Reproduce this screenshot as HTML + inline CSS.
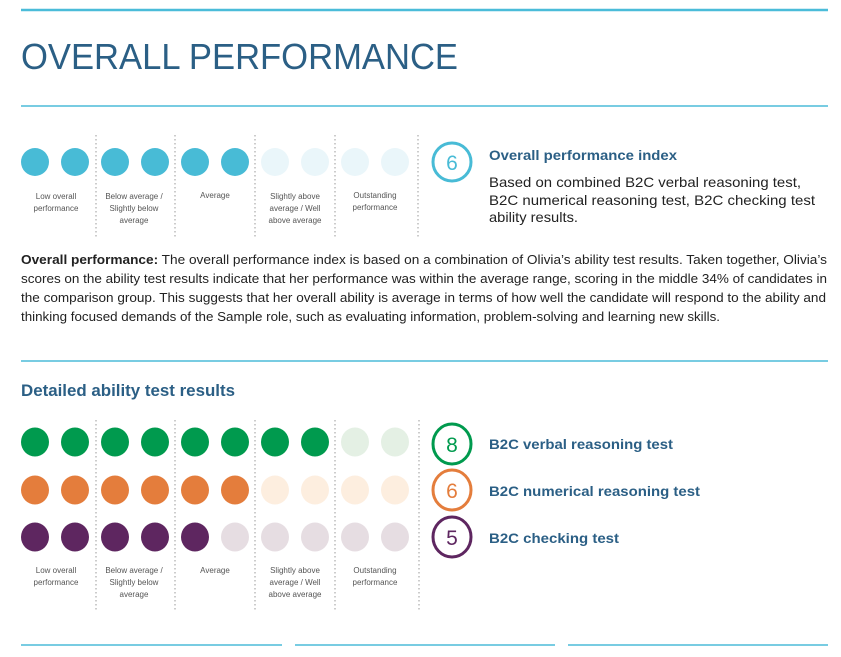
<!DOCTYPE html>
<html><head><meta charset="utf-8"><style>
html,body{margin:0;padding:0;background:#fff;width:841px;height:657px;overflow:hidden}
svg{display:block;font-family:"Liberation Sans",Arial,sans-serif}
.lbl{font-size:8px;fill:#555;text-anchor:middle}
.p{font-size:13px;fill:#222}
.h{fill:#2b5f85;font-weight:bold}
</style></head><body>
<svg width="841" height="657" viewBox="0 0 841 657">
<g stroke="#4bbcd9">
<line x1="21" y1="10" x2="828" y2="10" stroke-width="2.5"/>
<line x1="21" y1="106" x2="828" y2="106" stroke-width="1.5"/>
<line x1="21" y1="361" x2="828" y2="361" stroke-width="1.5"/>
<line x1="21" y1="645" x2="282" y2="645" stroke-width="1.5"/>
<line x1="295" y1="645" x2="555" y2="645" stroke-width="1.5"/>
<line x1="568" y1="645" x2="828" y2="645" stroke-width="1.5"/>
</g>
<text x="21" y="69" font-size="36" fill="#2b5f85" textLength="437" lengthAdjust="spacingAndGlyphs">OVERALL PERFORMANCE</text>

<g stroke="#aaa" stroke-width="1.2" stroke-dasharray="1.5,2.5">
<line x1="96" y1="135" x2="96" y2="238"/><line x1="175" y1="135" x2="175" y2="238"/>
<line x1="255" y1="135" x2="255" y2="238"/><line x1="335" y1="135" x2="335" y2="238"/>
<line x1="418" y1="135" x2="418" y2="238"/>
<line x1="96" y1="420" x2="96" y2="610"/><line x1="175" y1="420" x2="175" y2="610"/>
<line x1="255" y1="420" x2="255" y2="610"/><line x1="335" y1="420" x2="335" y2="610"/>
<line x1="419" y1="420" x2="419" y2="610"/>
</g>

<g>
<circle cx="35" cy="162" r="14" fill="#48bbd6"/><circle cx="75" cy="162" r="14" fill="#48bbd6"/>
<circle cx="115" cy="162" r="14" fill="#48bbd6"/><circle cx="155" cy="162" r="14" fill="#48bbd6"/>
<circle cx="195" cy="162" r="14" fill="#48bbd6"/><circle cx="235" cy="162" r="14" fill="#48bbd6"/>
<circle cx="275" cy="162" r="14" fill="#eaf6fa"/><circle cx="315" cy="162" r="14" fill="#eaf6fa"/>
<circle cx="355" cy="162" r="14" fill="#eaf6fa"/><circle cx="395" cy="162" r="14" fill="#eaf6fa"/>
</g>
<text class="lbl" x="56" y="199">Low overall</text><text class="lbl" x="56" y="211">performance</text>
<text class="lbl" x="134" y="199">Below average /</text><text class="lbl" x="134" y="211">Slightly below</text><text class="lbl" x="134" y="223">average</text>
<text class="lbl" x="215" y="198">Average</text>
<text class="lbl" x="295" y="199">Slightly above</text><text class="lbl" x="295" y="211">average / Well</text><text class="lbl" x="295" y="223">above average</text>
<text class="lbl" x="375" y="198">Outstanding</text><text class="lbl" x="375" y="210">performance</text>

<circle cx="452" cy="162" r="19" fill="none" stroke="#48bbd6" stroke-width="3"/>
<text x="452" y="170" font-size="21" fill="#48bbd6" text-anchor="middle">6</text>
<text x="489" y="160" font-size="14" class="h" textLength="188" lengthAdjust="spacingAndGlyphs">Overall performance index</text>
<text x="489" y="187" font-size="14" fill="#222" textLength="312" lengthAdjust="spacingAndGlyphs">Based on combined B2C verbal reasoning test,</text>
<text x="489" y="205" font-size="14" fill="#222" textLength="326" lengthAdjust="spacingAndGlyphs">B2C numerical reasoning test, B2C checking test</text>
<text x="489" y="222" font-size="14" fill="#222" textLength="89" lengthAdjust="spacingAndGlyphs">ability results.</text>

<text class="p" x="21" y="264" textLength="806" lengthAdjust="spacingAndGlyphs"><tspan font-weight="bold">Overall performance:</tspan> The overall performance index is based on a combination of Olivia’s ability test results. Taken together, Olivia’s</text>
<text class="p" x="21" y="283" textLength="806" lengthAdjust="spacingAndGlyphs">scores on the ability test results indicate that her performance was within the average range, scoring in the middle 34% of candidates in</text>
<text class="p" x="21" y="302" textLength="805" lengthAdjust="spacingAndGlyphs">the comparison group. This suggests that her overall ability is average in terms of how well the candidate will respond to the ability and</text>
<text class="p" x="21" y="321" textLength="699" lengthAdjust="spacingAndGlyphs">thinking focused demands of the Sample role, such as evaluating information, problem-solving and learning new skills.</text>

<text x="21" y="396" font-size="17" class="h" textLength="214" lengthAdjust="spacingAndGlyphs">Detailed ability test results</text>

<g>
<g fill="#009a4e">
<ellipse cx="35" cy="442" rx="14" ry="14.5"/><ellipse cx="75" cy="442" rx="14" ry="14.5"/><ellipse cx="115" cy="442" rx="14" ry="14.5"/><ellipse cx="155" cy="442" rx="14" ry="14.5"/><ellipse cx="195" cy="442" rx="14" ry="14.5"/><ellipse cx="235" cy="442" rx="14" ry="14.5"/><ellipse cx="275" cy="442" rx="14" ry="14.5"/><ellipse cx="315" cy="442" rx="14" ry="14.5"/>
</g>
<g fill="#e4f0e4"><ellipse cx="355" cy="442" rx="14" ry="14.5"/><ellipse cx="395" cy="442" rx="14" ry="14.5"/></g>
<g fill="#e47d3c">
<ellipse cx="35" cy="490" rx="14" ry="14.5"/><ellipse cx="75" cy="490" rx="14" ry="14.5"/><ellipse cx="115" cy="490" rx="14" ry="14.5"/><ellipse cx="155" cy="490" rx="14" ry="14.5"/><ellipse cx="195" cy="490" rx="14" ry="14.5"/><ellipse cx="235" cy="490" rx="14" ry="14.5"/>
</g>
<g fill="#fdeedf"><ellipse cx="275" cy="490" rx="14" ry="14.5"/><ellipse cx="315" cy="490" rx="14" ry="14.5"/><ellipse cx="355" cy="490" rx="14" ry="14.5"/><ellipse cx="395" cy="490" rx="14" ry="14.5"/></g>
<g fill="#5e2660">
<ellipse cx="35" cy="537" rx="14" ry="14.5"/><ellipse cx="75" cy="537" rx="14" ry="14.5"/><ellipse cx="115" cy="537" rx="14" ry="14.5"/><ellipse cx="155" cy="537" rx="14" ry="14.5"/><ellipse cx="195" cy="537" rx="14" ry="14.5"/>
</g>
<g fill="#e6dde2"><ellipse cx="235" cy="537" rx="14" ry="14.5"/><ellipse cx="275" cy="537" rx="14" ry="14.5"/><ellipse cx="315" cy="537" rx="14" ry="14.5"/><ellipse cx="355" cy="537" rx="14" ry="14.5"/><ellipse cx="395" cy="537" rx="14" ry="14.5"/></g>
</g>

<text class="lbl" x="56" y="573">Low overall</text><text class="lbl" x="56" y="585">performance</text>
<text class="lbl" x="134" y="573">Below average /</text><text class="lbl" x="134" y="585">Slightly below</text><text class="lbl" x="134" y="597">average</text>
<text class="lbl" x="215" y="573">Average</text>
<text class="lbl" x="295" y="573">Slightly above</text><text class="lbl" x="295" y="585">average / Well</text><text class="lbl" x="295" y="597">above average</text>
<text class="lbl" x="375" y="573">Outstanding</text><text class="lbl" x="375" y="585">performance</text>

<ellipse cx="452" cy="444" rx="19" ry="20" fill="none" stroke="#009a4e" stroke-width="3"/>
<text x="452" y="452" font-size="21" fill="#009a4e" text-anchor="middle">8</text>
<ellipse cx="452" cy="490" rx="19" ry="20" fill="none" stroke="#e47d3c" stroke-width="3"/>
<text x="452" y="498" font-size="21" fill="#e47d3c" text-anchor="middle">6</text>
<ellipse cx="452" cy="537" rx="19" ry="20" fill="none" stroke="#5e2660" stroke-width="3"/>
<text x="452" y="545" font-size="21" fill="#5e2660" text-anchor="middle">5</text>

<text x="489" y="449" font-size="14" class="h" textLength="184" lengthAdjust="spacingAndGlyphs">B2C verbal reasoning test</text>
<text x="489" y="496" font-size="14" class="h" textLength="211" lengthAdjust="spacingAndGlyphs">B2C numerical reasoning test</text>
<text x="489" y="543" font-size="14" class="h" textLength="130" lengthAdjust="spacingAndGlyphs">B2C checking test</text>
</svg>
</body></html>
